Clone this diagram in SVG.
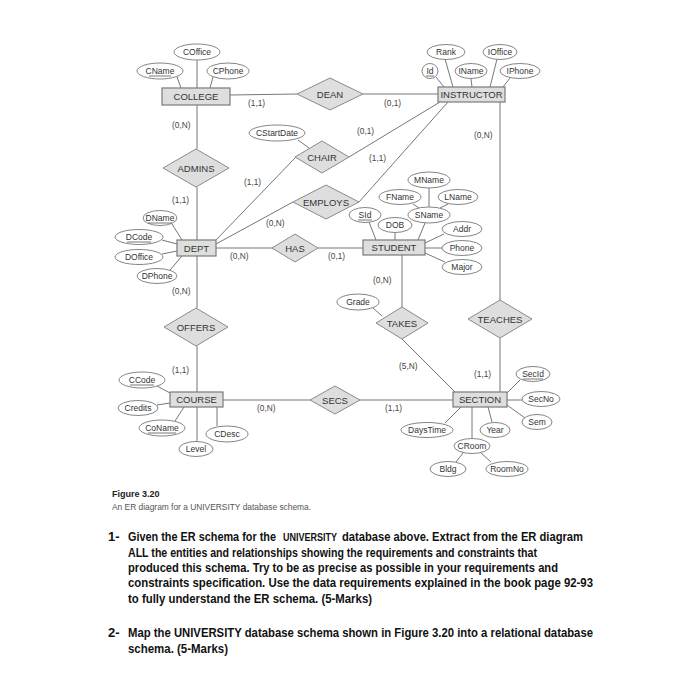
<svg xmlns="http://www.w3.org/2000/svg" width="686" height="700" viewBox="0 0 686 700">
<style>
.ent{fill:#dedede;stroke:#7a7a7a;stroke-width:1.2}
.rel{fill:#dedede;stroke:#8a8a8a;stroke-width:1}
.att{fill:#fff;stroke:#777;stroke-width:0.9}
.ln{stroke:#777;stroke-width:1;fill:none}
text{font-family:"Liberation Sans",Arial,sans-serif;fill:#333}
.et{font-size:9.5px;text-anchor:middle;dominant-baseline:central}
.rt{font-size:9.5px;text-anchor:middle;dominant-baseline:central}
.at{font-size:8.5px;text-anchor:middle;dominant-baseline:central}
.lb{font-size:8.3px;fill:#444}
.q{font-family:"Liberation Sans",Arial,sans-serif;font-size:13px;font-weight:bold;fill:#111}
</style>
<rect width="686" height="700" fill="#fff"/>
<g id="connectors" class="ln">
<line x1="197" y1="60" x2="197" y2="88"/>
<line x1="177" y1="77" x2="181" y2="88"/>
<line x1="213" y1="77" x2="210" y2="88"/>
<line x1="230" y1="95" x2="297" y2="94"/>
<line x1="363" y1="94" x2="438" y2="94"/>
<line x1="445" y1="59" x2="453" y2="87"/>
<line x1="436" y1="77" x2="444" y2="87"/>
<line x1="471" y1="79" x2="472" y2="87"/>
<line x1="497" y1="59" x2="490" y2="87"/>
<line x1="510" y1="78" x2="503" y2="87"/>
<line x1="197" y1="105" x2="197" y2="149"/>
<line x1="197" y1="187" x2="197" y2="240"/>
<line x1="197" y1="256" x2="197" y2="308"/>
<line x1="197" y1="346" x2="197" y2="392"/>
<line x1="172" y1="224" x2="182" y2="240"/>
<line x1="162" y1="240" x2="177" y2="244"/>
<line x1="162" y1="254" x2="177" y2="251"/>
<line x1="170" y1="270" x2="182" y2="256"/>
<line x1="216" y1="240" x2="296" y2="157"/>
<line x1="349" y1="157" x2="440" y2="102"/>
<line x1="298" y1="140" x2="309" y2="148"/>
<line x1="216" y1="244" x2="293" y2="202"/>
<line x1="359" y1="202" x2="448" y2="102"/>
<line x1="215" y1="248" x2="272" y2="248"/>
<line x1="318" y1="248" x2="363" y2="248"/>
<line x1="429" y1="188" x2="429" y2="207"/>
<line x1="413" y1="204" x2="419" y2="208"/>
<line x1="448" y1="204" x2="440" y2="208"/>
<line x1="425" y1="223" x2="418" y2="240"/>
<line x1="369" y1="222" x2="376" y2="240"/>
<line x1="395" y1="233" x2="395" y2="240"/>
<line x1="444" y1="234" x2="425" y2="243"/>
<line x1="442" y1="248" x2="425" y2="248"/>
<line x1="445" y1="262" x2="425" y2="253"/>
<line x1="402" y1="255" x2="402" y2="308"/>
<line x1="373" y1="308" x2="382" y2="316"/>
<line x1="402" y1="339" x2="455" y2="392"/>
<line x1="500" y1="102" x2="500" y2="300"/>
<line x1="500" y1="338" x2="500" y2="392"/>
<line x1="507" y1="393" x2="520" y2="380"/>
<line x1="507" y1="400" x2="522" y2="400"/>
<line x1="507" y1="405" x2="525" y2="418"/>
<line x1="488" y1="407" x2="492" y2="422"/>
<line x1="472" y1="407" x2="472" y2="438"/>
<line x1="461" y1="407" x2="445" y2="423"/>
<line x1="463" y1="453" x2="456" y2="462"/>
<line x1="481" y1="453" x2="491" y2="462"/>
<line x1="223" y1="400" x2="310" y2="400"/>
<line x1="360" y1="400" x2="453" y2="400"/>
<line x1="157" y1="386" x2="170" y2="393"/>
<line x1="157" y1="405" x2="170" y2="403"/>
<line x1="175" y1="421" x2="184" y2="407"/>
<line x1="197" y1="407" x2="197" y2="441"/>
<line x1="217" y1="407" x2="217" y2="426"/>
</g>
<g id="labels">
<text class="lb" x="248" y="106">(1,1)</text>
<text class="lb" x="384" y="106">(0,1)</text>
<text class="lb" x="172" y="128">(0,N)</text>
<text class="lb" x="474" y="138">(0,N)</text>
<text class="lb" x="357" y="134">(0,1)</text>
<text class="lb" x="369" y="161">(1,1)</text>
<text class="lb" x="244" y="185">(1,1)</text>
<text class="lb" x="172" y="203">(1,1)</text>
<text class="lb" x="266" y="226">(0,N)</text>
<text class="lb" x="230" y="259">(0,N)</text>
<text class="lb" x="328" y="259">(0,1)</text>
<text class="lb" x="172" y="294">(0,N)</text>
<text class="lb" x="373" y="283">(0,N)</text>
<text class="lb" x="399" y="369">(5,N)</text>
<text class="lb" x="474" y="377">(1,1)</text>
<text class="lb" x="172" y="373">(1,1)</text>
<text class="lb" x="257" y="411">(0,N)</text>
<text class="lb" x="385" y="411">(1,1)</text>
</g>
<g id="COLLEGE"><rect class="ent" x="162" y="88" width="68" height="17"/><text class="et" x="196" y="96.5">COLLEGE</text></g>
<g id="COffice"><ellipse class="att" cx="197" cy="52" rx="23" ry="8"/><text class="at" x="197" y="52">COffice</text></g>
<g id="CName"><ellipse class="att" cx="160" cy="71" rx="23" ry="8"/><text class="at" x="160" y="71">CName</text><line class="ln" x1="149" y1="76" x2="171" y2="76"/></g>
<g id="CPhone"><ellipse class="att" cx="228" cy="71" rx="21" ry="8"/><text class="at" x="228" y="71">CPhone</text></g>
<g id="DEAN"><polygon class="rel" points="297,94 330,78 363,94 330,110"/><text class="rt" x="330" y="94">DEAN</text></g>
<g id="INSTRUCTOR"><rect class="ent" x="438" y="87" width="67" height="15"/><text class="et" x="471.5" y="94.5">INSTRUCTOR</text></g>
<g id="Rank"><ellipse class="att" cx="446" cy="52" rx="19" ry="7.5"/><text class="at" x="446" y="52">Rank</text></g>
<g id="IOffice"><ellipse class="att" cx="500" cy="52" rx="17" ry="7.5"/><text class="at" x="500" y="52">IOffice</text></g>
<g id="Id"><ellipse class="att" cx="430" cy="71" rx="8" ry="7.5"/><text class="at" x="430" y="71">Id</text><line class="ln" x1="426" y1="76" x2="434" y2="76"/></g>
<g id="IName"><ellipse class="att" cx="471" cy="71" rx="16" ry="7.5"/><text class="at" x="471" y="71">IName</text></g>
<g id="IPhone"><ellipse class="att" cx="520" cy="71" rx="20" ry="7.5"/><text class="at" x="520" y="71">IPhone</text></g>
<g id="ADMINS"><polygon class="rel" points="163,168 196,149 229,168 196,187"/><text class="rt" x="196" y="168">ADMINS</text></g>
<g id="CStartDate"><ellipse class="att" cx="277" cy="133" rx="28" ry="8"/><text class="at" x="277" y="133">CStartDate</text></g>
<g id="CHAIR"><polygon class="rel" points="295,157 322,141 349,157 322,173"/><text class="rt" x="322" y="157">CHAIR</text></g>
<g id="EMPLOYS"><polygon class="rel" points="293,202 326,185 359,202 326,219"/><text class="rt" x="326" y="202">EMPLOYS</text></g>
<g id="DEPT"><rect class="ent" x="177" y="240" width="39" height="16"/><text class="et" x="196.5" y="248">DEPT</text></g>
<g id="DName"><ellipse class="att" cx="160" cy="218" rx="17" ry="7.5"/><text class="at" x="160" y="218">DName</text><line class="ln" x1="148" y1="223" x2="172" y2="223"/></g>
<g id="DCode"><ellipse class="att" cx="139" cy="237" rx="24" ry="7.5"/><text class="at" x="139" y="237">DCode</text><line class="ln" x1="127" y1="242" x2="151" y2="242"/></g>
<g id="DOffice"><ellipse class="att" cx="139" cy="257" rx="24" ry="7.5"/><text class="at" x="139" y="257">DOffice</text></g>
<g id="DPhone"><ellipse class="att" cx="157" cy="276" rx="20" ry="7.5"/><text class="at" x="157" y="276">DPhone</text></g>
<g id="HAS"><polygon class="rel" points="272,248 295,234 318,248 295,262"/><text class="rt" x="295" y="248">HAS</text></g>
<g id="STUDENT"><rect class="ent" x="363" y="240" width="62" height="15"/><text class="et" x="394" y="247.5">STUDENT</text></g>
<g id="MName"><ellipse class="att" cx="429" cy="180" rx="21" ry="8"/><text class="at" x="429" y="180">MName</text></g>
<g id="FName"><ellipse class="att" cx="400" cy="197" rx="21" ry="7.5"/><text class="at" x="400" y="197">FName</text></g>
<g id="LName"><ellipse class="att" cx="458" cy="197" rx="20" ry="7.5"/><text class="at" x="458" y="197">LName</text></g>
<g id="SName"><ellipse class="att" cx="429" cy="215" rx="21" ry="8"/><text class="at" x="429" y="215">SName</text></g>
<g id="SId"><ellipse class="att" cx="365" cy="215" rx="16" ry="7.5"/><text class="at" x="365" y="215">SId</text><line class="ln" x1="358" y1="220" x2="372" y2="220"/></g>
<g id="DOB"><ellipse class="att" cx="395" cy="225" rx="17" ry="7.5"/><text class="at" x="395" y="225">DOB</text></g>
<g id="Addr"><ellipse class="att" cx="462" cy="229" rx="20" ry="7.5"/><text class="at" x="462" y="229">Addr</text></g>
<g id="Phone"><ellipse class="att" cx="462" cy="248" rx="20" ry="7.5"/><text class="at" x="462" y="248">Phone</text></g>
<g id="Major"><ellipse class="att" cx="462" cy="267" rx="20" ry="7.5"/><text class="at" x="462" y="267">Major</text></g>
<g id="OFFERS"><polygon class="rel" points="164,327 196,308 228,327 196,346"/><text class="rt" x="196" y="327">OFFERS</text></g>
<g id="Grade"><ellipse class="att" cx="358" cy="302" rx="21" ry="8"/><text class="at" x="358" y="302">Grade</text></g>
<g id="TAKES"><polygon class="rel" points="376,323 402,307 428,323 402,339"/><text class="rt" x="402" y="323">TAKES</text></g>
<g id="TEACHES"><polygon class="rel" points="468,319 500,300 532,319 500,338"/><text class="rt" x="500" y="319">TEACHES</text></g>
<g id="COURSE"><rect class="ent" x="170" y="392" width="53" height="15"/><text class="et" x="196.5" y="399.5">COURSE</text></g>
<g id="CCode"><ellipse class="att" cx="142" cy="380" rx="23" ry="8"/><text class="at" x="142" y="380">CCode</text><line class="ln" x1="130" y1="385" x2="154" y2="385"/></g>
<g id="Credits"><ellipse class="att" cx="138" cy="408" rx="20" ry="7.5"/><text class="at" x="138" y="408">Credits</text></g>
<g id="CoName"><ellipse class="att" cx="162" cy="428" rx="23" ry="8"/><text class="at" x="162" y="428">CoName</text><line class="ln" x1="148" y1="433" x2="176" y2="433"/></g>
<g id="CDesc"><ellipse class="att" cx="227" cy="434" rx="21" ry="8"/><text class="at" x="227" y="434">CDesc</text></g>
<g id="Level"><ellipse class="att" cx="196" cy="449" rx="17" ry="7.5"/><text class="at" x="196" y="449">Level</text></g>
<g id="SECS"><polygon class="rel" points="310,400 335,386 360,400 335,414"/><text class="rt" x="335" y="400">SECS</text></g>
<g id="SECTION"><rect class="ent" x="453" y="392" width="54" height="15"/><text class="et" x="480" y="399.5">SECTION</text></g>
<g id="SecId"><ellipse class="att" cx="533" cy="374" rx="17" ry="7.5"/><text class="at" x="533" y="374">SecId</text><line class="ln" x1="523" y1="379" x2="543" y2="379"/></g>
<g id="SecNo"><ellipse class="att" cx="541" cy="399" rx="19" ry="7.5"/><text class="at" x="541" y="399">SecNo</text></g>
<g id="Sem"><ellipse class="att" cx="537" cy="422" rx="15" ry="7.5"/><text class="at" x="537" y="422">Sem</text></g>
<g id="Year"><ellipse class="att" cx="495" cy="430" rx="15" ry="7.5"/><text class="at" x="495" y="430">Year</text></g>
<g id="DaysTime"><ellipse class="att" cx="427" cy="430" rx="26" ry="7.5"/><text class="at" x="427" y="430">DaysTime</text></g>
<g id="CRoom"><ellipse class="att" cx="472" cy="446" rx="18" ry="7.5"/><text class="at" x="472" y="446">CRoom</text></g>
<g id="Bldg"><ellipse class="att" cx="448" cy="469" rx="18" ry="7.5"/><text class="at" x="448" y="469">Bldg</text></g>
<g id="RoomNo"><ellipse class="att" cx="507" cy="469" rx="21" ry="7.5"/><text class="at" x="507" y="469">RoomNo</text></g>
<g id="caption">
<text x="112" y="497" style="font-size:9px;font-weight:bold;fill:#222">Figure 3.20</text>
<text x="112" y="510" style="font-size:8.4px;fill:#555">An ER diagram for a UNIVERSITY database schema.</text>
</g>
<g id="questions">
<text class="q" x="108" y="541">1-</text>
<text class="q" y="541"><tspan x="128" textLength="148" lengthAdjust="spacingAndGlyphs">Given the ER schema for the</tspan><tspan x="283" textLength="54" lengthAdjust="spacingAndGlyphs" style="font-size:10px">UNIVERSITY</tspan><tspan x="342" textLength="241" lengthAdjust="spacingAndGlyphs">database above. Extract from the ER diagram</tspan></text>
<text class="q" x="128" y="557" textLength="409" lengthAdjust="spacingAndGlyphs">ALL the entities and relationships showing the requirements and constraints that</text>
<text class="q" x="128" y="572" textLength="430" lengthAdjust="spacingAndGlyphs">produced this schema. Try to be as precise as possible in your requirements and</text>
<text class="q" x="128" y="587" textLength="465" lengthAdjust="spacingAndGlyphs">constraints specification. Use the data requirements explained in the book page 92-93</text>
<text class="q" x="128" y="603" textLength="244" lengthAdjust="spacingAndGlyphs">to fully understand the ER schema. (5-Marks)</text>
<text class="q" x="108" y="637">2-</text>
<text class="q" x="128" y="637" textLength="465" lengthAdjust="spacingAndGlyphs">Map the UNIVERSITY database schema shown in Figure 3.20 into a relational database</text>
<text class="q" x="128" y="653" textLength="100" lengthAdjust="spacingAndGlyphs">schema. (5-Marks)</text>
</g>
</svg>
